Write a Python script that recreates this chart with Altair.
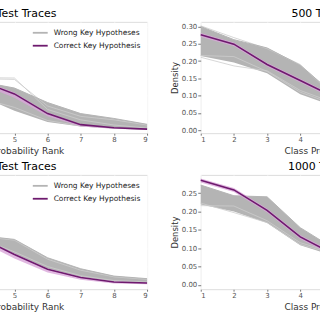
import altair as alt
import pandas as pd

FONT = "DejaVu Sans"
BG = "#E5E5E5"
GRAY_BAND = "#b4b4b4"
GRAY_LINE = "#cdcdcd"
PURPLE = "#6e1a6e"
HALO = "#d9a6d9"
WRONG = "Wrong Key Hypotheses"
RIGHT = "Correct Key Hypothesis"

# ---- data (only the visible part of each panel) ----
x_left = [4, 5, 6, 7, 8, 9]
x_right = [1, 2, 3, 4, 5]

# top-left panel
tl_purple = [0.141, 0.105, 0.048, 0.016, 0.007, 0.003]
tl_halo_lo = [0.132, 0.094, 0.040, 0.011, 0.004, 0.001]
tl_halo_hi = [0.145, 0.109, 0.051, 0.018, 0.008, 0.004]
tl_band_lo = [0.098, 0.056, 0.024, 0.011, 0.005, 0.002]
tl_band_hi = [0.140, 0.122, 0.080, 0.048, 0.034, 0.017]
tl_out1 = [0.152, 0.151, 0.060, 0.030, 0.015, 0.006]
tl_out2 = [0.149, 0.147, 0.070, 0.040, 0.030, 0.015]
tl_out3 = [0.092, 0.066, 0.028, 0.012, 0.006, 0.002]

# top-right panel
tr_purple = [0.276, 0.249, 0.190, 0.144, 0.097]
tr_halo_lo = [0.270, 0.243, 0.184, 0.138, 0.091]
tr_halo_hi = [0.281, 0.254, 0.195, 0.149, 0.102]
tr_band_lo = [0.215, 0.196, 0.165, 0.104, 0.070]
tr_band_hi = [0.300, 0.262, 0.238, 0.188, 0.105]
tr_out1 = [0.302, 0.268, 0.236, 0.190, 0.100]
tr_out2 = [0.211, 0.186, 0.172, 0.115, 0.080]
tr_out3 = [0.216, 0.213, 0.170, 0.110, 0.075]

# bottom-left panel
bl_purple = [0.128, 0.083, 0.0425, 0.020, 0.008, 0.005]
bl_halo_lo = [0.118, 0.072, 0.034, 0.014, 0.004, 0.002]
bl_halo_hi = [0.131, 0.086, 0.045, 0.022, 0.010, 0.006]
bl_band_lo = [0.125, 0.085, 0.045, 0.022, 0.010, 0.007]
bl_band_hi = [0.134, 0.124, 0.074, 0.044, 0.024, 0.017]
bl_out1 = [0.132, 0.122, 0.070, 0.040, 0.022, 0.015]
bl_out2 = [0.126, 0.090, 0.050, 0.025, 0.012, 0.008]

# bottom-right panel
br_purple = [0.285, 0.259, 0.203, 0.131, 0.084]
br_halo_lo = [0.279, 0.253, 0.197, 0.125, 0.078]
br_halo_hi = [0.290, 0.264, 0.208, 0.136, 0.089]
br_band_lo = [0.219, 0.200, 0.169, 0.108, 0.080]
br_band_hi = [0.272, 0.243, 0.240, 0.156, 0.100]
br_out1 = [0.223, 0.197, 0.170, 0.110, 0.085]
br_out2 = [0.216, 0.215, 0.175, 0.115, 0.088]

titles = ["100 Test Traces", "500 Test Traces", "200 Test Traces", "1000 Test Traces"]
x_ticks_left = [2, 3, 4, 5, 6, 7, 8, 9]
x_ticks_right = [1, 2, 3, 4, 5, 6, 7, 8]
y_ticks_top = [0.0, 0.05, 0.10, 0.15, 0.20, 0.25, 0.30]
y_ticks_bottom = [0.0, 0.05, 0.10, 0.15, 0.20, 0.25]


def panel(title, xs, purple, halo_lo, halo_hi, band_lo, band_hi, outs,
          width, height, ydomain, yticks, xticks, left_side):
    main = pd.DataFrame({"x": xs, "purple": purple, "halo_lo": halo_lo,
                         "halo_hi": halo_hi, "band_lo": band_lo,
                         "band_hi": band_hi, "s_wrong": WRONG, "s_right": RIGHT})
    rows = []
    for i, ln in enumerate(outs):
        for x, v in zip(xs, ln):
            rows.append({"x": x, "v": v, "id": i})
    odf = pd.DataFrame(rows)

    xscale = alt.Scale(domain=[1, 9], nice=False, zero=False)
    yscale = alt.Scale(domain=ydomain, nice=False, zero=False)
    xaxis = alt.Axis(values=xticks, format="d", title="Class Probability Rank",
                     labelFontSize=7, labelColor="#555555", labelPadding=0.5,
                     tickSize=2, tickColor="#555555", tickWidth=0.8,
                     domain=False, grid=True, gridColor="white", gridWidth=0.8,
                     titleFontSize=9, titleFontWeight="normal", titleColor="#333333",
                     titlePadding=3.5)
    if left_side:
        yaxis = alt.Axis(values=yticks, labels=False, ticks=False, domain=False,
                         title=None, grid=True, gridColor="white", gridWidth=0.8)
    else:
        yaxis = alt.Axis(values=yticks, format=".2f", title="Density",
                         labelFontSize=7, labelColor="#555555", labelPadding=1,
                         tickSize=3, tickColor="#555555", tickWidth=0.8,
                         domain=False, grid=True, gridColor="white", gridWidth=0.8,
                         titleFontSize=8.5, titleFontWeight="normal",
                         titleColor="#333333", titlePadding=2)
    X = alt.X("x:Q", scale=xscale, axis=xaxis)
    cscale = alt.Scale(domain=[WRONG, RIGHT], range=[GRAY_BAND, PURPLE])
    if left_side:
        legend = alt.Legend(orient="none", legendX=151, legendY=2.5, title=None,
                            symbolType="stroke", symbolSize=225, symbolStrokeWidth=1.8,
                            labelFontSize=7.5, labelColor="#222222", labelOffset=5,
                            rowPadding=-1.7, padding=0)
    else:
        legend = None

    band = alt.Chart(main).mark_area(color=GRAY_BAND, opacity=1).encode(
        x=X, y=alt.Y("band_lo:Q", scale=yscale, axis=yaxis), y2="band_hi:Q")
    band_edge = alt.Chart(main).mark_line(strokeWidth=1).encode(
        x=X, y=alt.Y("band_hi:Q", scale=yscale, axis=yaxis),
        color=alt.Color("s_wrong:N", scale=cscale, legend=legend))
    out_lines = alt.Chart(odf).mark_line(color=GRAY_LINE, strokeWidth=0.8).encode(
        x=X, y=alt.Y("v:Q", scale=yscale, axis=yaxis), detail="id:N")
    halo = alt.Chart(main).mark_area(color=HALO, opacity=0.8).encode(
        x=X, y=alt.Y("halo_lo:Q", scale=yscale, axis=yaxis), y2="halo_hi:Q")
    line = alt.Chart(main).mark_line(strokeWidth=1.6).encode(
        x=X, y=alt.Y("purple:Q", scale=yscale, axis=yaxis),
        color=alt.Color("s_right:N", scale=cscale, legend=legend))
    return alt.layer(band, out_lines, band_edge, halo, line).properties(
        width=width, height=height,
        title=alt.TitleParams(title, fontSize=11, fontWeight="normal", color="black",
                              baseline="alphabetic", offset=-6, frame="group"))


TOP_H, BOT_H = 112, 115
top_dom = [-0.0086, 0.3135]
bot_dom = [-0.0117, 0.2998]

tl = panel(titles[0], x_left, tl_purple, tl_halo_lo, tl_halo_hi, tl_band_lo, tl_band_hi,
           [tl_out1, tl_out2, tl_out3], 267, TOP_H, top_dom, y_ticks_top, x_ticks_left, True)
tr = panel(titles[1], x_right, tr_purple, tr_halo_lo, tr_halo_hi, tr_band_lo, tr_band_hi,
           [tr_out1, tr_out2, tr_out3], 267, TOP_H, top_dom, y_ticks_top, x_ticks_right, False)
bl = panel(titles[2], x_left, bl_purple, bl_halo_lo, bl_halo_hi, bl_band_lo, bl_band_hi,
           [bl_out1, bl_out2], 267, BOT_H, bot_dom, y_ticks_bottom, x_ticks_left, True)
br = panel(titles[3], x_right, br_purple, br_halo_lo, br_halo_hi, br_band_lo, br_band_hi,
           [br_out1, br_out2], 267, BOT_H, bot_dom, y_ticks_bottom, x_ticks_right, False)

chart = alt.concat(tl, tr, bl, br, columns=2, spacing={"row": 42, "column": 54},
                   bounds="flush").resolve_scale(
    color="independent").resolve_legend(color="independent").properties(
    padding={"left": -120, "top": 6, "right": -148, "bottom": 6},
    autosize=alt.AutoSizeParams(type="pad"),
    background="white",
).configure_view(fill=BG, stroke=None).configure(font=FONT)

chart.save("out.html", embed_options={"renderer": "svg", "actions": False})
